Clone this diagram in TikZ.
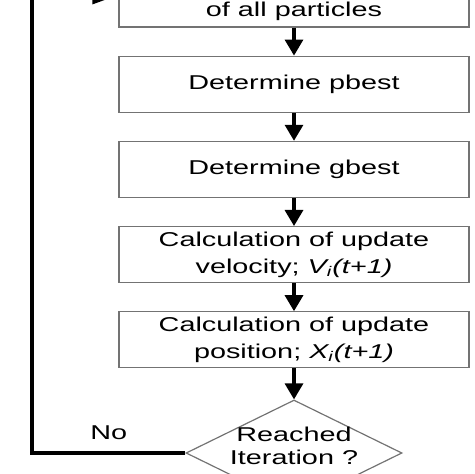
\documentclass[tikz,border=0pt]{standalone}
\usepackage{fontspec}
\setmainfont[FakeStretch=1.44]{Liberation Sans}
\usetikzlibrary{positioning,shapes.geometric,arrows.meta}

\begin{document}
\begin{tikzpicture}[
    stepbox/.style={draw=black!55,line width=0.6pt,minimum width=175pt,minimum height=28pt,align=center,inner sep=1pt},
    flow/.style={-{Triangle[length=8pt,width=9pt]},line width=1.6pt},
    node distance=14pt,
    font=\fontsize{10}{13.3}\selectfont
]
\useasboundingbox (0,0) rectangle (237pt,-237pt);

\node[stepbox,minimum height=32pt,text height=22pt,text depth=0.5pt] (init) at (147pt,2.5pt) {of all particles};
\node[stepbox,below=of init] (pbest) {Determine pbest};
\node[stepbox,below=of pbest] (gbest) {Determine gbest};
\node[stepbox,below=of gbest] (velocity) {Calculation of update\\velocity; \textit{V\textsubscript{i}(t+1)}};
\node[stepbox,below=of velocity] (position) {Calculation of update\\position; \textit{X\textsubscript{i}(t+1)}};
\node[diamond,draw=black!55,line width=0.6pt,minimum width=108pt,minimum height=53pt,
    inner sep=0pt,below=15.5pt of position] (check) {};
\node[align=center,font=\fontsize{10}{11.5}\selectfont] (checktext) at ([yshift=3.5pt]check.center) {Reached\\Iteration ?};
\coordinate (back) at (16pt,0);

\draw[flow] (init) -- (pbest);
\draw[flow] (pbest) -- (gbest);
\draw[flow] (gbest) -- (velocity);
\draw[flow] (velocity) -- (position);
\draw[flow] (position) -- (check);

% loop back when the iteration count is not reached
\draw[flow,-{Triangle[length=13pt,width=9pt]}] (check.west) -- node[above=2.5pt] (no) {No}
    (check.west -| back) |- (init.west);

\end{tikzpicture}
\end{document}
